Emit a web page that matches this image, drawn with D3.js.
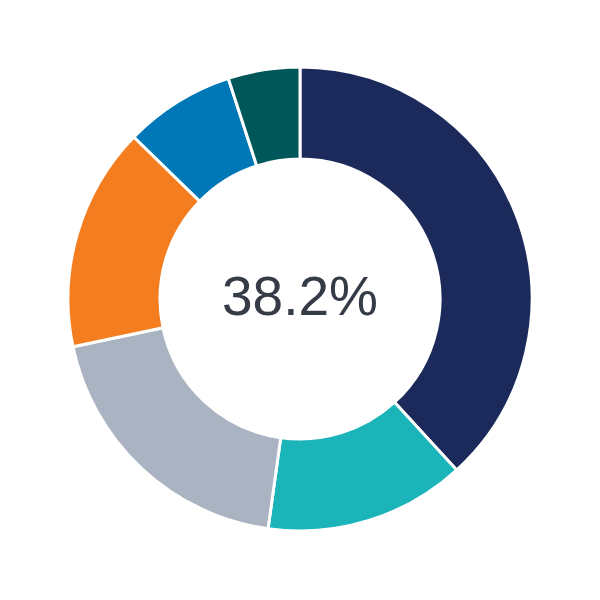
<!DOCTYPE html>
<html><head><meta charset="utf-8">
<script src="https://cdn.jsdelivr.net/npm/d3@7/dist/d3.min.js"></script>
<style>html,body{margin:0;padding:0;background:#fff;}</style>
</head><body>
<svg id="chart" width="600" height="600"></svg>
<script>
const categories = ["A","B","C","D","E","F"];
const values = [38.2, 14.0, 19.5, 15.6, 7.7, 5.0];
const colors = ["#1b2a5b","#1bb4b8","#a9b3c1","#f47d20","#0077b6","#00575a"];
const centerLabel = "38.2%";

const svg = d3.select("#chart");
const g = svg.append("g").attr("transform","translate(300,299)");
const data = categories.map((c,i)=>({cat:c, value:values[i], color:colors[i]}));
const pie = d3.pie().value(d=>d.value).sort(null);
const arc = d3.arc().innerRadius(140).outerRadius(232);
g.selectAll("path").data(pie(data)).join("path")
  .attr("d", arc)
  .attr("fill", d=>d.data.color)
  .attr("stroke","#fff")
  .attr("stroke-width",3);
g.append("text").attr("text-anchor","middle").attr("y",16)
  .attr("font-family","'Liberation Sans', Arial, sans-serif")
  .attr("font-size",55).attr("fill","#353b47").text(centerLabel);
</script>
</body></html>
